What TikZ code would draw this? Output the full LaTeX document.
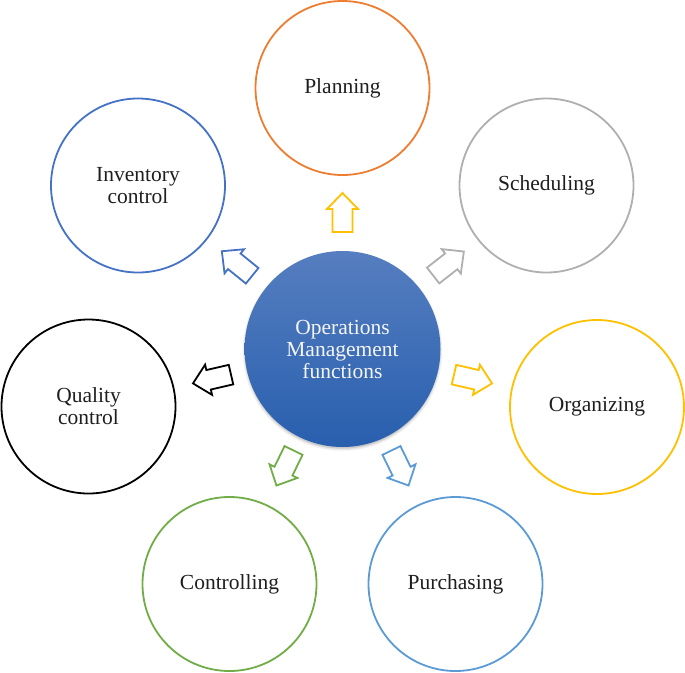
\documentclass[tikz,border=0pt]{standalone}
\usepackage{fontspec}
\setmainfont{Liberation Serif}
\usetikzlibrary{calc}
\definecolor{cOrange}{RGB}{237,125,49}
\definecolor{cBlue}{RGB}{68,114,196}
\definecolor{cGray}{RGB}{175,175,175}
\definecolor{cGold}{RGB}{255,192,0}
\definecolor{cGreen}{RGB}{112,173,71}
\definecolor{cLBlue}{RGB}{91,155,213}
\definecolor{cTop}{RGB}{86,126,192}
\definecolor{cBot}{RGB}{40,95,174}
\definecolor{cText}{RGB}{30,30,30}
\tikzset{
  func/.style={circle, draw, line width=1.8pt, minimum size=174pt, inner sep=0pt,
    align=center, text=cText, font=\fontsize{21.5}{22}\selectfont},
  blockarr/.pic={\draw[pic actions, line width=1.8pt, line join=miter]
    (-19.5,-10) -- (3.5,-10) -- (3.5,-15.5) -- (19.5,0) -- (3.5,15.5) -- (3.5,10) -- (-19.5,10) -- cycle;}
}
\begin{document}
\begin{tikzpicture}[x=1pt,y=-1pt]
\useasboundingbox (0,0) rectangle (685,672);
% outer function circles
\node[func, draw=cOrange] (plan) at (342.5,88) {Planning};
\node[func, draw=cBlue] (inv) at (138,185.5) {Inventory\\control};
\node[func, draw=cGray] (sched) at (546.5,185.5) {Scheduling};
\node[func, draw=black] (qual) at (88.5,406.5) {Quality\\control};
\node[func, draw=cGold] (org) at (597,407) {Organizing};
\node[func, draw=cGreen] (ctrl) at (229.5,584) {Controlling};
\node[func, draw=cLBlue] (purch) at (455.5,584) {Purchasing};
% shadow of centre circle
\foreach \r/\o in {100/0.04,99/0.05,98/0.06,97.5/0.08}
  \fill[black, opacity=\o] (342.5,351) circle[radius=\r];
% centre circle
\node[circle, minimum size=196pt, inner sep=0pt, top color=cTop, bottom color=cBot,
  align=center, text=white!92!gray, font=\fontsize{21.5}{22}\selectfont] (center) at (342.5,349)
  {Operations\\Management\\functions};
% block arrows
\coordinate (aplan) at (342.5,212.5);
\coordinate (ainv) at (237,263.5);
\coordinate (asched) at (448.5,263.5);
\coordinate (aqual) at (212,379);
\coordinate (aorg) at (473,379);
\coordinate (actrl) at (285,468);
\coordinate (apurch) at (400,468);
\pic[draw=cGold, rotate=90] at (aplan) {blockarr};
\pic[draw=cBlue, rotate=141] at (ainv) {blockarr};
\pic[draw=cGray, rotate=38] at (asched) {blockarr};
\pic[draw=black, rotate=193] at (aqual) {blockarr};
\pic[draw=cGold, rotate=-13] at (aorg) {blockarr};
\pic[draw=cGreen, rotate=244] at (actrl) {blockarr};
\pic[draw=cLBlue, rotate=296] at (apurch) {blockarr};
\end{tikzpicture}
\end{document}
